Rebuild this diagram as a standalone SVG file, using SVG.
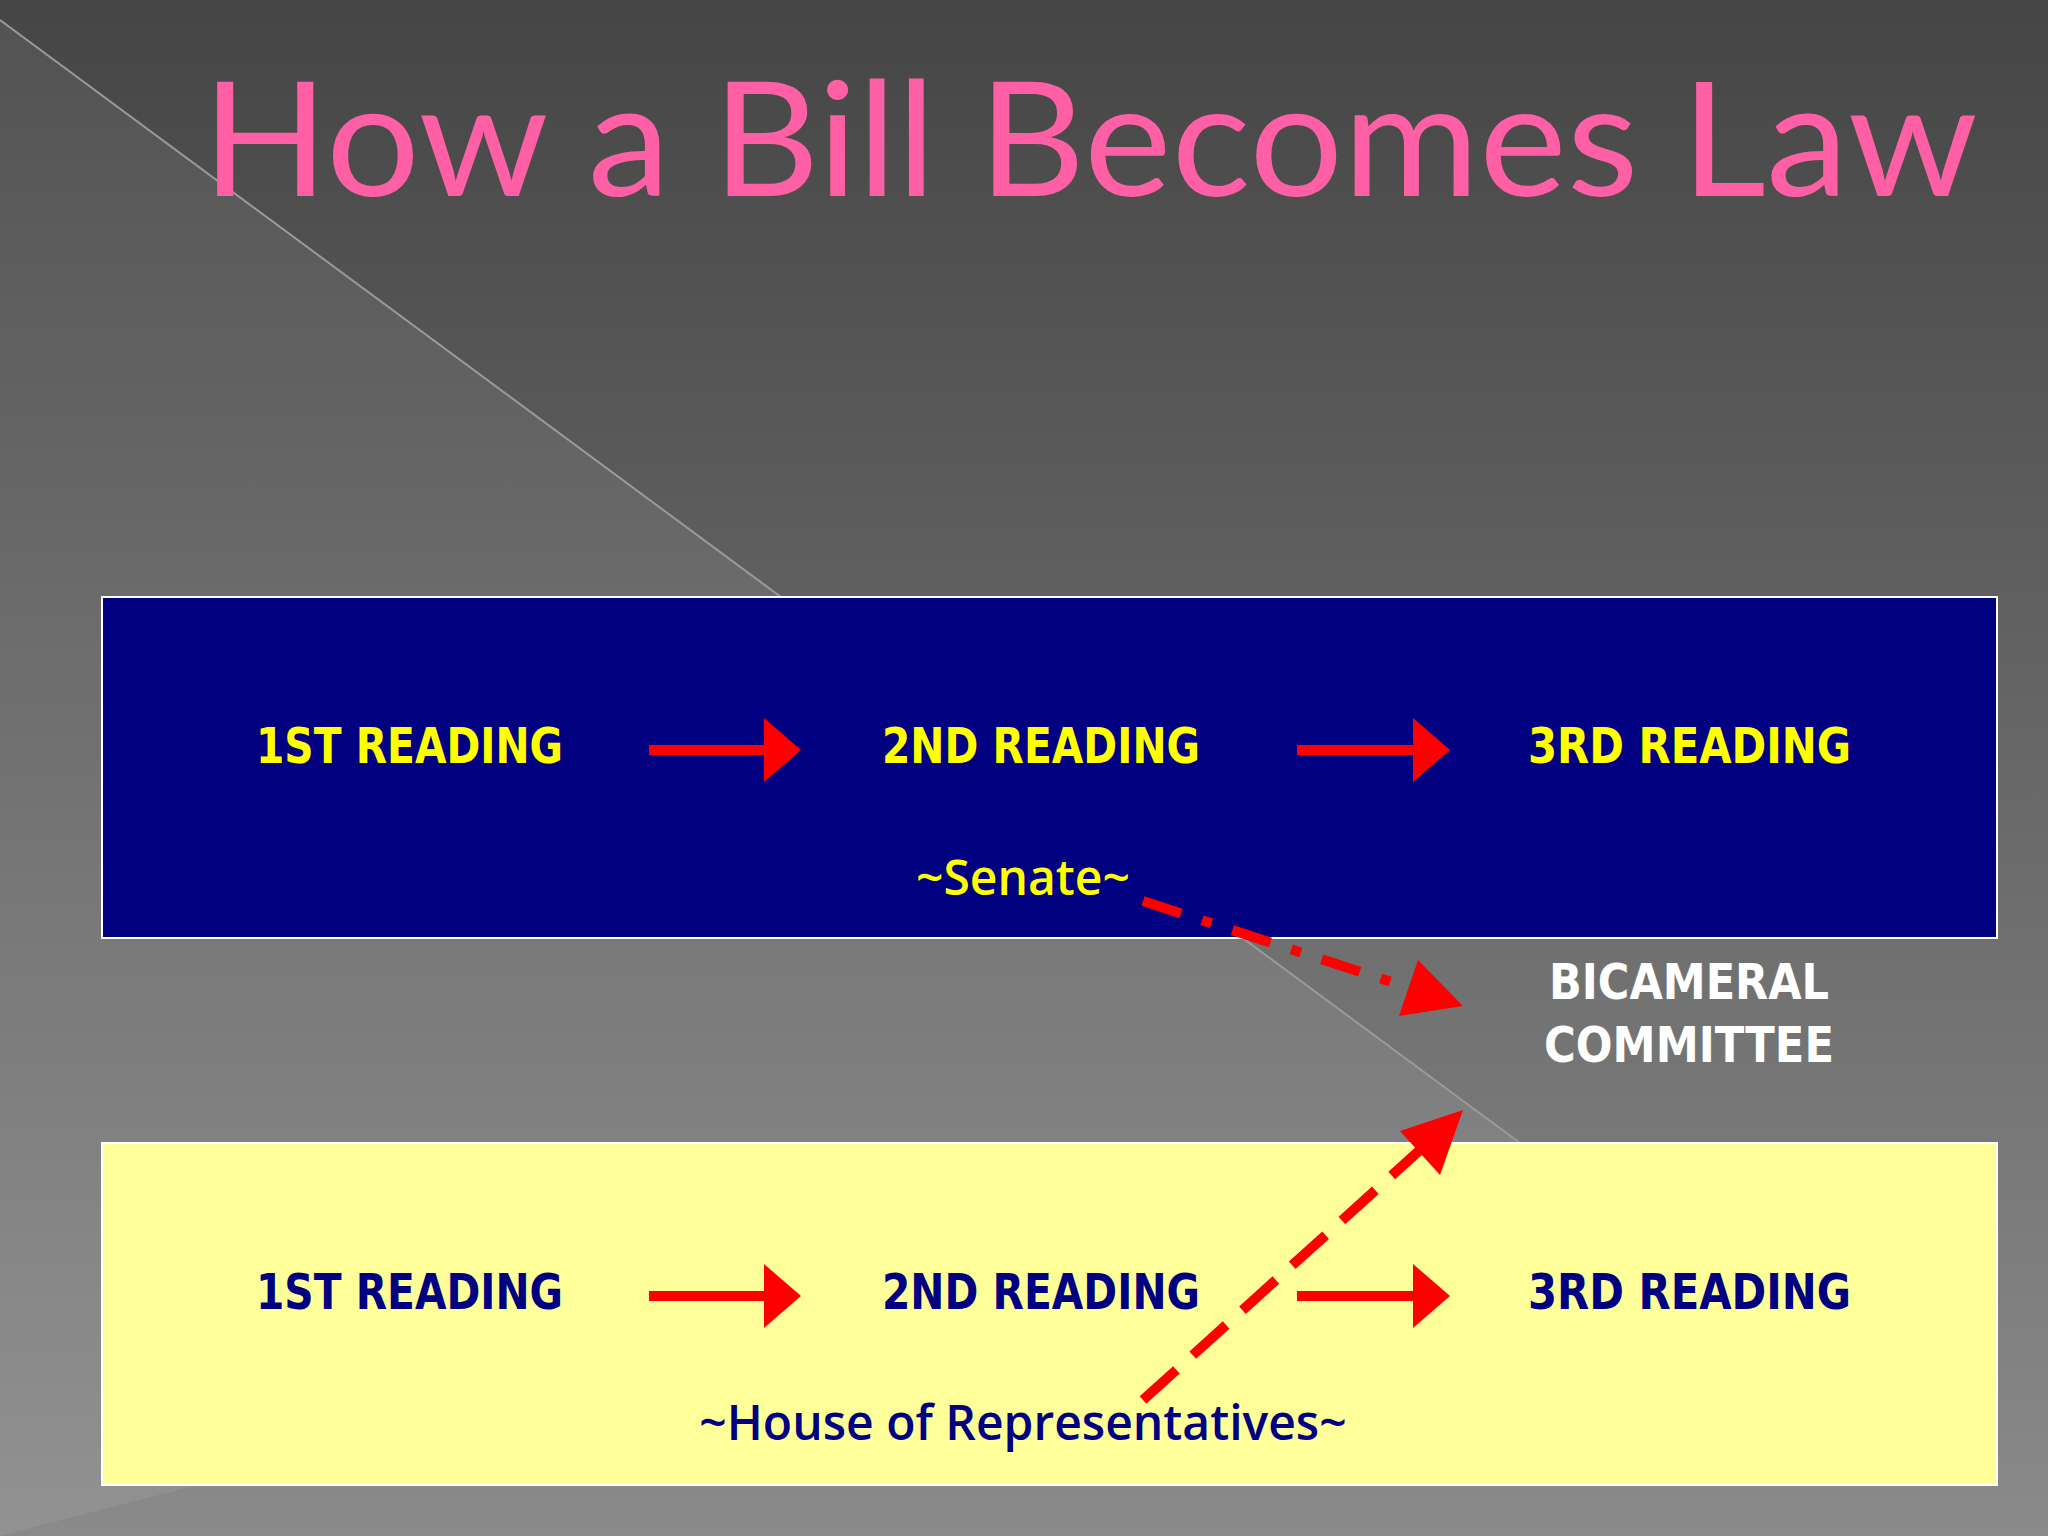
<svg xmlns="http://www.w3.org/2000/svg" width="2048" height="1536" viewBox="0 0 2048 1536">
<defs>
<linearGradient id="bg" x1="0" y1="0" x2="0" y2="1"><stop offset="0" stop-color="#454545"/><stop offset="1" stop-color="#8a8a8a"/></linearGradient>
<marker id="ah" viewBox="0 0 10 10" refX="9" refY="5" markerWidth="4" markerHeight="4" orient="auto" markerUnits="strokeWidth"><path d="M0,0 L10,5 L0,10 z" fill="#ff0000"/></marker>
<style>
.rd{font-family:"DejaVu Sans",sans-serif;font-weight:bold;font-size:50px}
.lab{font-family:"Open Sans","DejaVu Sans",sans-serif;font-weight:600;font-size:48px;text-anchor:middle}
.arr{stroke:#ff0000;stroke-width:10;fill:none}
</style>
</defs>
<rect width="2048" height="1536" fill="url(#bg)"/>
<path d="M0,20 L1520,1143 L0,1536 Z" fill="#ffffff" opacity="0.07"/>
<line x1="0" y1="20" x2="1520" y2="1143" stroke="#9a9a9a" stroke-width="2"/>
<text x="202" y="196" font-family="Lato,'Liberation Sans',sans-serif" font-size="160" fill="#ff5fa5" textLength="1776" lengthAdjust="spacingAndGlyphs">How a Bill Becomes Law</text>
<g id="senate">
<rect x="102" y="597" width="1895" height="341" fill="#000080" stroke="#ffffff" stroke-width="2"/>
<text class="rd" x="256" y="763" fill="#ffff00" textLength="307" lengthAdjust="spacingAndGlyphs">1ST READING</text>
<text class="rd" x="882" y="763" fill="#ffff00" textLength="318" lengthAdjust="spacingAndGlyphs">2ND READING</text>
<text class="rd" x="1528" y="763" fill="#ffff00" textLength="323" lengthAdjust="spacingAndGlyphs">3RD READING</text>
<text class="lab" x="1023" y="895" fill="#ffff00">~Senate~</text>
</g>
<g id="house">
<rect x="102" y="1143" width="1895" height="342" fill="#ffff99" stroke="#ffffff" stroke-width="2"/>
<text class="rd" x="256" y="1309" fill="#000080" textLength="307" lengthAdjust="spacingAndGlyphs">1ST READING</text>
<text class="rd" x="882" y="1309" fill="#000080" textLength="318" lengthAdjust="spacingAndGlyphs">2ND READING</text>
<text class="rd" x="1528" y="1309" fill="#000080" textLength="323" lengthAdjust="spacingAndGlyphs">3RD READING</text>
<text class="lab" x="1023" y="1440" fill="#000080">~House of Representatives~</text>
</g>
<g id="bicameral">
<text class="rd" x="1689" y="999" fill="#ffffff" text-anchor="middle" textLength="280" lengthAdjust="spacingAndGlyphs">BICAMERAL</text>
<text class="rd" x="1689" y="1062" fill="#ffffff" text-anchor="middle" textLength="290" lengthAdjust="spacingAndGlyphs">COMMITTEE</text>
</g>
<g id="connectors">
<path d="M649,750 H764" class="arr"/><path d="M764,718 L801,750 L764,782 Z" fill="#ff0000"/>
<path d="M1297,750 H1413" class="arr"/><path d="M1413,718 L1450,750 L1413,782 Z" fill="#ff0000"/>
<path d="M649,1296 H764" class="arr"/><path d="M764,1264 L801,1296 L764,1328 Z" fill="#ff0000"/>
<path d="M1297,1296 H1413" class="arr"/><path d="M1413,1264 L1450,1296 L1413,1328 Z" fill="#ff0000"/>
<path d="M1143,901 L1410,988" class="arr" stroke-dasharray="40,22,10,22"/>
<path d="M1463,1006 L1399,1016 L1418,960 Z" fill="#ff0000"/>
<path d="M1143,1400 L1420,1150" class="arr" stroke-dasharray="45,22"/>
<path d="M1463,1110 L1440,1175 L1400,1131 Z" fill="#ff0000"/>
</g>
</svg>
